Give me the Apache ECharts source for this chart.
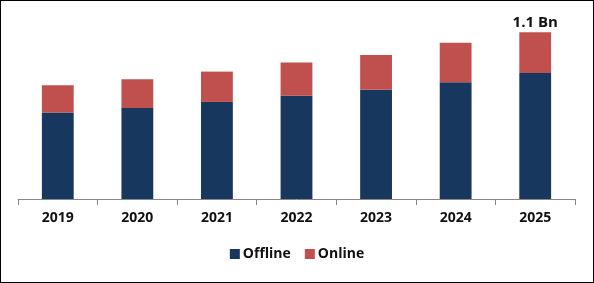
<!DOCTYPE html>
<html><head><meta charset="utf-8">
<script src="https://cdn.jsdelivr.net/npm/echarts@6/dist/echarts.min.js"></script>
<style>
html,body{margin:0;padding:0;background:#fff;}
#c{width:594px;height:283px;box-sizing:border-box;border:1px solid #000;}
</style></head>
<body><div id="c"></div>
<script>
const categories = ['2019','2020','2021','2022','2023','2024','2025'];
const offline = [0.57, 0.60, 0.64, 0.68, 0.72, 0.77, 0.83];
const online = [0.18, 0.19, 0.20, 0.22, 0.23, 0.26, 0.27];
const topLabel = '1.1 Bn';

const chart = echarts.init(document.getElementById('c'), null, {renderer:'canvas'});
const font = '"Open Sans", "DejaVu Sans", sans-serif';
chart.setOption({
  animation:false,
  textStyle:{fontFamily:font},
  grid:{left:17, right:18, top:16, bottom:83},
  legend:{
    data:['Offline','Online'], bottom:16, left:'center',
    itemWidth:10, itemHeight:10, itemGap:14, icon:'rect',
    textStyle:{fontFamily:font, fontWeight:'bold', fontSize:14, color:'#111', padding:[0,0,0,-2]}
  },
  xAxis:{
    type:'category', data:categories,
    axisLine:{lineStyle:{color:'#888', width:1}},
    axisTick:{show:true, length:6, lineStyle:{color:'#888'}},
    axisLabel:{fontFamily:font, fontWeight:'bold', fontSize:14, color:'#111', margin:12}
  },
  yAxis:{type:'value', min:0, max:1.2, show:false, splitLine:{show:false}},
  series:[
    {name:'Offline', type:'bar', stack:'t', data:offline, barWidth:'40%',
     itemStyle:{color:'#17375E'}},
    {name:'Online', type:'bar', stack:'t', barWidth:'40%',
     data: online.map((v,i)=> i===online.length-1 ? {value:v, label:{show:true, position:'top', distance:2, formatter:topLabel, fontFamily:font, fontWeight:'bold', fontSize:15, color:'#111'}} : v),
     itemStyle:{color:'#C0504D'}}
  ]
});
</script></body></html>
